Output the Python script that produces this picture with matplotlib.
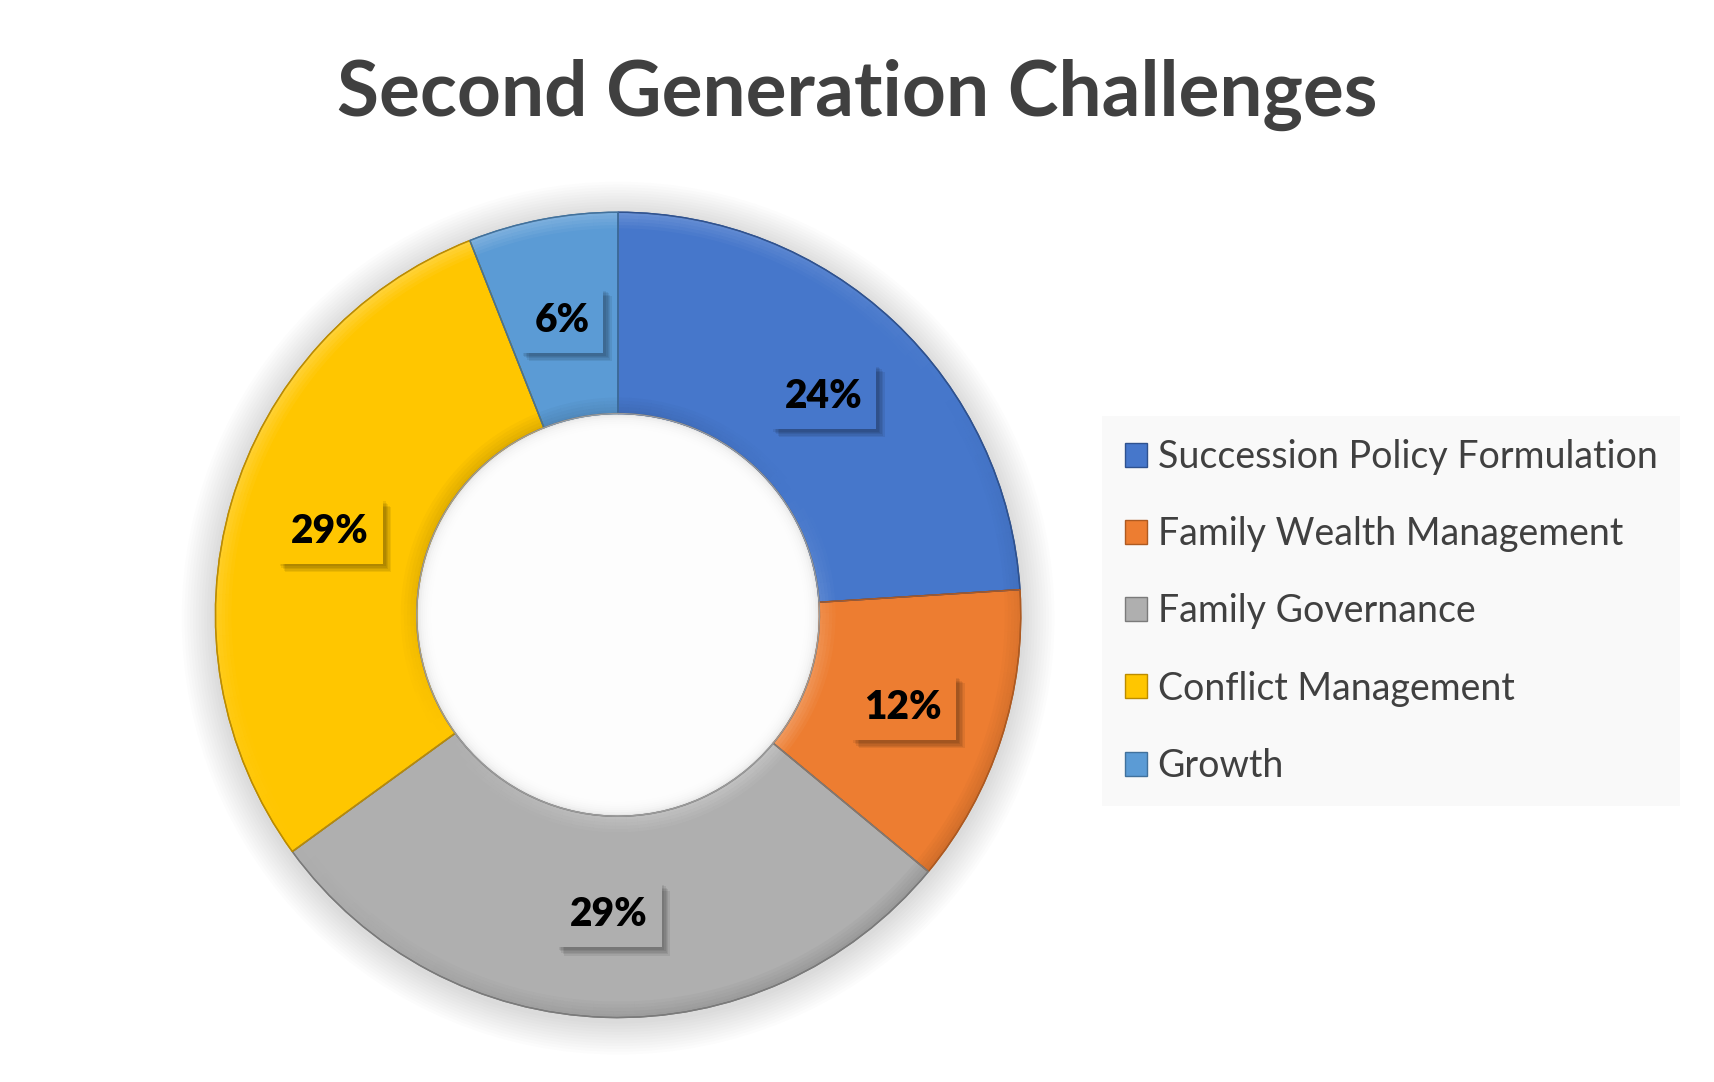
import numpy as np
import matplotlib.pyplot as plt
from matplotlib.patches import Circle, Wedge
import matplotlib.patheffects as pe

categories = ['Succession Policy Formulation', 'Family Wealth Management',
              'Family Governance', 'Conflict Management', 'Growth']
shares = [24, 12, 29, 29, 6]
colors = ['#4677CB', '#ED7D31', '#AFAFAF', '#FFC600', '#5B9BD5']
edge_colors = ['#2F528F', '#AE5A21', '#7B7B7B', '#BC8C00', '#41719C']
title = 'Second Generation Challenges'

plt.rcParams['font.family'] = ['Lato', 'DejaVu Sans']

fig = plt.figure(figsize=(17.15, 10.82), dpi=100)
fig.patch.set_facecolor('white')

lim = 1.15
ax = fig.add_axes([0.0904, 0.0037, 0.540, 0.856])

# soft shadow around the ring
for i in range(12):
    r = 1.0 + 0.007 * (12 - i)
    ax.add_patch(Circle((0, -0.008), r, facecolor='#000000', edgecolor='none',
                        alpha=0.010, zorder=0))

wedges, texts, autotexts = ax.pie(
    shares, colors=colors, startangle=90, counterclock=False, radius=1.0,
    wedgeprops=dict(width=0.5, linewidth=1.0),
    autopct='%d%%', pctdistance=0.745,
    textprops=dict(fontsize=28, fontweight='heavy', color='black'))

for w, ec in zip(wedges, edge_colors):
    w.set_edgecolor(ec)
    w.set_zorder(2)

# bevel: light from the upper left on the outer and inner rims
step = 3.0
nsub = 5
for w in wedges:
    a = w.theta2
    while a > w.theta1 + 1e-6:
        b = max(a - step, w.theta1)
        mid = np.radians((a + b) / 2)
        lit = np.cos(mid - np.radians(125))
        for r_edge, sign, direction in [(1.0, 1, -1), (0.5, -1, 1)]:
            k = sign * lit
            for j in range(nsub):
                fade = 1 - j / nsub
                if direction < 0:
                    r_out = r_edge - 0.008 * j
                else:
                    r_out = r_edge + 0.008 * (j + 1)
                alpha = (0.22 if k > 0 else 0.12) * abs(k) * fade
                ax.add_patch(Wedge((0, 0), r_out, b, a, width=0.008,
                                   facecolor='white' if k > 0 else 'black',
                                   alpha=alpha, edgecolor='none', zorder=3))
        a = b
for w, ec in zip(wedges, edge_colors):
    ax.add_patch(Wedge((0, 0), 1.0, w.theta1, w.theta2, width=0.5,
                       facecolor='none', edgecolor=ec, linewidth=1.0, zorder=4))

# inner shadow in the hole
for i in range(10):
    r = 0.5 - 0.005 * i
    ax.add_patch(Circle((0, 0), r, facecolor='white', edgecolor='none',
                        alpha=0.35, zorder=3))
ax.add_patch(Circle((0, 0), 0.5, facecolor='none', edgecolor='#9a9a9a',
                    linewidth=1.0, zorder=4))

# label boxes with a soft drop shadow
soft = [pe.SimplePatchShadow(offset=(d, -d), shadow_rgbFace='black', alpha=0.07)
        for d in (6, 5, 4, 3, 2)]
for t, c in zip(autotexts, colors):
    t.set_zorder(6)
    t.set_bbox(dict(boxstyle='square,pad=0.36', facecolor=c, edgecolor='none'))
    t.get_bbox_patch().set_path_effects(soft + [pe.Normal()])

ax.set_xlim(-lim, lim)
ax.set_ylim(-lim, lim)
ax.set_aspect('equal')
ax.axis('off')

fig.text(0.5, 0.912, title, ha='center', va='center', fontsize=55.2,
         fontweight='bold', color='#404040')

leg = fig.legend(wedges, categories, loc='center left',
                 bbox_to_anchor=(0.6426, 0.435), fontsize=27,
                 frameon=True, fancybox=False, facecolor='#F9F9F9',
                 edgecolor='none', framealpha=1.0,
                 handlelength=0.6, handleheight=0.6, handletextpad=0.28,
                 labelspacing=1.1, borderpad=0.6, borderaxespad=0)
for txt in leg.get_texts():
    txt.set_color('#404040')

fig.savefig('out.png', dpi=100, facecolor='white')
